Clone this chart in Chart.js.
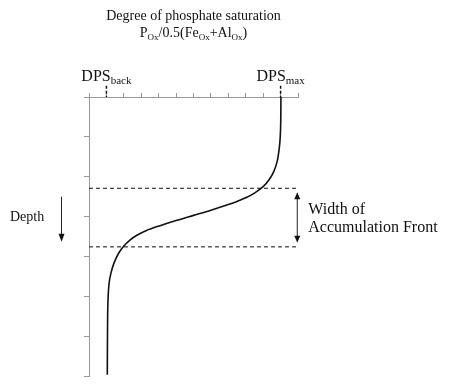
<!DOCTYPE html>
<html>
<head>
<meta charset="utf-8">
<script src="https://cdn.jsdelivr.net/npm/chart.js@4/dist/chart.umd.min.js"></script>
<style>
html,body{margin:0;padding:0;background:#fff;}
#wrap{width:474px;height:384px;}
</style>
</head>
<body>
<div id="wrap"><canvas id="c" width="474" height="384"></canvas></div>
<script>
// ---- data ----
const dpsTicks = [0,1,2,3,4,5,6,7,8,9,10,11,12];
const depthTicks = [0,1,2,3,4,5,6,7];
const curveDps   = [11.02, 11.01, 10.98, 10.92, 10.8, 10.6, 10.35, 10.0, 9.5, 9.0, 8.5, 8.0, 7.0, 6.0, 5.0, 4.0, 3.3, 2.75, 2.35, 2.0, 1.7, 1.45, 1.27, 1.16, 1.1, 1.07, 1.05];
const curveDepth = [0, 0.6, 1.0, 1.3, 1.62, 1.88, 2.07, 2.25, 2.41, 2.53, 2.62, 2.7, 2.84, 2.97, 3.1, 3.24, 3.35, 3.47, 3.59, 3.74, 3.92, 4.15, 4.4, 4.65, 5.0, 5.5, 6.97];
const dpsBack = 1;
const dpsMax = 11;
const frontTop = 2.29;
const frontBottom = 3.76;
const frontLineEnd = 11.93;
const markerTop = -0.28;
const depthArrowFrom = 2.5;
const depthArrowTo = 3.63;

const SERIF = "'Liberation Serif','Times New Roman',serif";
const curveData = curveDps.map((v,i)=>({x:v,y:curveDepth[i]}));

function drawRich(ctx, parts, x, y, align){
  let w = 0;
  parts.forEach(p=>{ctx.font = p.size+'px '+SERIF; p.w = ctx.measureText(p.t).width; w += p.w;});
  let cx = align==='center' ? x - w/2 : x;
  ctx.textBaseline = 'alphabetic';
  ctx.textAlign = 'left';
  parts.forEach(p=>{ctx.font = p.size+'px '+SERIF; ctx.fillText(p.t, cx, y + (p.dy||0)); cx += p.w;});
}
function arrowHead(ctx, x, y, dir, w, h){
  ctx.beginPath();
  ctx.moveTo(x, y);
  ctx.lineTo(x - w/2, y - dir*h);
  ctx.lineTo(x + w/2, y - dir*h);
  ctx.closePath();
  ctx.fill();
}

const annot = {
  id:'annot',
  afterDraw(chart){
    const ctx = chart.ctx, xs = chart.scales.x, ys = chart.scales.y, ca = chart.chartArea;
    ctx.save();
    ctx.fillStyle = '#111';
    const cx = (ca.left + ca.right)/2;
    drawRich(ctx, [{t:'Degree of phosphate saturation', size:14}], cx, 20, 'center');
    drawRich(ctx, [
      {t:'P', size:14},{t:'Ox', size:9, dy:3},{t:'/0.5(Fe', size:14},{t:'Ox', size:9, dy:3},
      {t:'+Al', size:14},{t:'Ox', size:9, dy:3},{t:')', size:14}], cx, 37, 'center');
    drawRich(ctx, [{t:'DPS', size:16},{t:'back', size:11, dy:3}], xs.getPixelForValue(dpsBack), 81, 'center');
    drawRich(ctx, [{t:'DPS', size:16},{t:'max', size:11, dy:3}], xs.getPixelForValue(dpsMax), 81, 'center');
    // width-of-front double arrow
    const ax = xs.getPixelForValue(frontLineEnd) + 0.5;
    const y1 = ys.getPixelForValue(frontTop) + 4, y2 = ys.getPixelForValue(frontBottom) - 4;
    ctx.strokeStyle = '#222'; ctx.lineWidth = 1;
    ctx.beginPath(); ctx.moveTo(ax, y1 + 5); ctx.lineTo(ax, y2 - 5); ctx.stroke();
    arrowHead(ctx, ax, y1, -1, 6, 7);
    arrowHead(ctx, ax, y2, 1, 6, 7);
    drawRich(ctx, [{t:'Width of', size:16}], ax + 11, 214, 'left');
    drawRich(ctx, [{t:'Accumulation Front', size:16}], ax + 11, 232, 'left');
    // depth arrow
    const dx = 61.5;
    const d1 = ys.getPixelForValue(depthArrowFrom), d2 = ys.getPixelForValue(depthArrowTo);
    ctx.beginPath(); ctx.moveTo(dx, d1); ctx.lineTo(dx, d2 - 6); ctx.stroke();
    arrowHead(ctx, dx, d2, 1, 6, 8);
    drawRich(ctx, [{t:'Depth', size:14}], 10, 221, 'left');
    ctx.restore();
  }
};

new Chart(document.getElementById('c'), {
  type:'scatter',
  data:{
    datasets:[
      {data:curveData, showLine:true, borderColor:'#111', borderWidth:1.6, pointRadius:0, tension:0.3, fill:false},
      {data:[{x:0,y:frontTop},{x:frontLineEnd,y:frontTop}], showLine:true, borderColor:'#111', borderWidth:1, borderDash:[4,3], pointRadius:0},
      {data:[{x:0,y:frontBottom},{x:frontLineEnd,y:frontBottom}], showLine:true, borderColor:'#111', borderWidth:1, borderDash:[4,3], pointRadius:0},
      {data:[{x:dpsBack,y:markerTop},{x:dpsBack,y:0}], showLine:true, borderColor:'#111', borderWidth:1.5, borderDash:[3,2], pointRadius:0, clip:false},
      {data:[{x:dpsMax,y:markerTop},{x:dpsMax,y:0}], showLine:true, borderColor:'#111', borderWidth:1.5, borderDash:[3,2], pointRadius:0, clip:false}
    ]
  },
  options:{
    responsive:false,
    animation:false,
    events:[],
    layout:{padding:{left:84, top:93, right:176, bottom:8}},
    plugins:{legend:{display:false}, tooltip:{enabled:false}, title:{display:false}},
    scales:{
      x:{type:'linear', position:'top', min:dpsTicks[0], max:dpsTicks[dpsTicks.length-1],
         afterBuildTicks(s){ s.ticks = dpsTicks.map(v=>({value:v})); },
         ticks:{display:false},
         grid:{drawOnChartArea:false, drawTicks:true, tickLength:4, color:'#999', lineWidth:1},
         border:{display:true, color:'#999', width:1}},
      y:{type:'linear', reverse:true, min:depthTicks[0], max:depthTicks[depthTicks.length-1],
         afterBuildTicks(s){ s.ticks = depthTicks.map(v=>({value:v})); },
         ticks:{display:false},
         grid:{drawOnChartArea:false, drawTicks:true, tickLength:5, color:'#999', lineWidth:1},
         border:{display:true, color:'#999', width:1}}
    }
  },
  plugins:[annot]
});
</script>
</body>
</html>
